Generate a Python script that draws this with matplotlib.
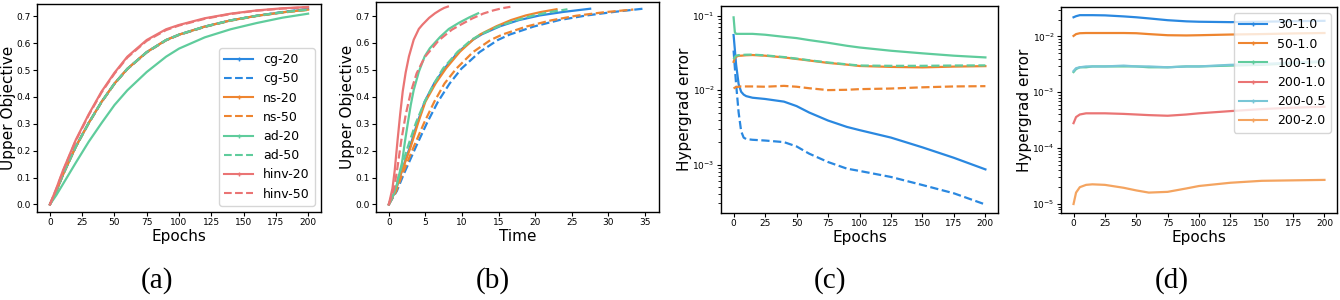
import numpy as np
import matplotlib.pyplot as plt
from matplotlib.lines import Line2D

# ---- data ----
epochs = [0, 5, 10, 20, 30, 40, 50, 60, 75, 90, 100, 120, 140, 160, 180, 200]

obj_hinv20 = [0, 0.06, 0.125, 0.24, 0.335, 0.42, 0.49, 0.55, 0.612, 0.652, 0.668, 0.693, 0.710, 0.722, 0.730, 0.735]
obj_hinv50 = [0, 0.058, 0.122, 0.237, 0.332, 0.417, 0.487, 0.547, 0.609, 0.649, 0.666, 0.691, 0.709, 0.721, 0.729, 0.734]
obj_cg20 = [0, 0.05, 0.11, 0.215, 0.303, 0.382, 0.45, 0.505, 0.567, 0.612, 0.632, 0.662, 0.685, 0.702, 0.715, 0.727]
obj_cg50 = [0, 0.05, 0.11, 0.214, 0.302, 0.381, 0.449, 0.504, 0.566, 0.611, 0.631, 0.661, 0.685, 0.702, 0.716, 0.728]
obj_ns20 = [0, 0.05, 0.11, 0.215, 0.303, 0.382, 0.45, 0.505, 0.567, 0.612, 0.632, 0.662, 0.685, 0.702, 0.715, 0.725]
obj_ns50 = [0, 0.049, 0.109, 0.214, 0.302, 0.381, 0.449, 0.504, 0.566, 0.611, 0.631, 0.661, 0.684, 0.701, 0.714, 0.724]
obj_ad20 = [0, 0.035, 0.075, 0.155, 0.233, 0.303, 0.37, 0.425, 0.493, 0.55, 0.58, 0.622, 0.652, 0.675, 0.695, 0.71]
obj_ad50 = [0, 0.05, 0.11, 0.215, 0.303, 0.382, 0.45, 0.505, 0.567, 0.612, 0.632, 0.662, 0.685, 0.702, 0.715, 0.725]

time_cg20 = [0, 0.9, 1.6, 2.9, 3.9, 4.9, 6.2, 7.6, 9.5, 11.5, 12.7, 15.2, 17.8, 20.6, 23.8, 27.5]
time_cg50 = [0, 1.1, 2.0, 3.7, 5.2, 6.7, 8.3, 9.9, 12.4, 14.9, 16.5, 19.8, 23.3, 27.0, 31.0, 35.0]
time_ns20 = [0, 0.9, 1.6, 3.0, 4.0, 5.0, 6.4, 7.8, 9.7, 11.5, 12.5, 14.7, 16.7, 18.7, 20.8, 22.9]
time_ns50 = [0, 1.0, 1.8, 3.4, 4.8, 6.2, 7.6, 9.2, 11.5, 13.9, 15.5, 18.8, 22.2, 25.6, 29.4, 33.4]
time_ad20 = [0, 0.6, 1.1, 1.8, 2.2, 2.6, 3.0, 3.4, 4.1, 4.9, 5.6, 7.0, 8.2, 9.6, 11.0, 12.2]
time_ad50 = [0, 0.8, 1.4, 2.6, 3.7, 4.9, 6.2, 7.4, 9.4, 11.3, 12.6, 15.0, 17.5, 19.8, 22.1, 24.4]
time_hinv20 = [0, 0.5, 0.8, 1.2, 1.55, 1.9, 2.3, 2.75, 3.4, 4.1, 4.6, 5.5, 6.3, 7.0, 7.55, 8.07]
time_hinv50 = [0, 0.7, 1.1, 1.7, 2.3, 3.0, 3.8, 4.9, 6.8, 8.6, 9.7, 11.4, 12.9, 14.3, 15.5, 16.6]

epochs_c = [0, 1, 2, 4, 6, 8, 10, 15, 25, 40, 50, 60, 75, 90, 100, 125, 150, 175, 200]
err_cg20 = [0.055, 0.035, 0.022, 0.012, 0.0095, 0.0087, 0.0083, 0.0079, 0.0076, 0.0070, 0.0061, 0.0050, 0.0039, 0.0032, 0.0029, 0.0023, 0.0017, 0.00123, 0.00086]
err_cg50 = [0.034, 0.02, 0.012, 0.005, 0.0028, 0.0023, 0.0022, 0.00215, 0.0021, 0.0020, 0.00175, 0.0014, 0.00108, 0.00088, 0.00082, 0.00068, 0.00053, 0.00041, 0.00029]
err_ns20 = [0.024, 0.027, 0.028, 0.029, 0.029, 0.0292, 0.0294, 0.0296, 0.029, 0.0275, 0.0262, 0.025, 0.0232, 0.022, 0.0211, 0.0205, 0.0202, 0.0207, 0.021]
err_ns50 = [0.0105, 0.0108, 0.011, 0.0111, 0.0112, 0.0112, 0.0112, 0.0112, 0.0111, 0.0114, 0.0111, 0.0106, 0.0100, 0.0101, 0.0103, 0.0105, 0.0109, 0.0112, 0.0113]
err_ad20 = [0.095, 0.06, 0.057, 0.057, 0.057, 0.057, 0.057, 0.057, 0.0555, 0.052, 0.050, 0.047, 0.0433, 0.0394, 0.0374, 0.0338, 0.0312, 0.029, 0.0275]
err_ad50 = [0.026, 0.028, 0.029, 0.0295, 0.0297, 0.0298, 0.0299, 0.030, 0.0293, 0.0278, 0.0265, 0.0252, 0.0235, 0.0222, 0.0214, 0.0212, 0.0212, 0.0214, 0.0215]

epochs_d = [0, 2, 5, 10, 15, 25, 40, 50, 60, 75, 90, 100, 125, 150, 175, 200]
err_30_1 = [0.022, 0.023, 0.024, 0.024, 0.024, 0.0238, 0.0228, 0.022, 0.021, 0.0195, 0.0186, 0.0183, 0.018, 0.0183, 0.0187, 0.019]
err_50_1 = [0.0102, 0.011, 0.0114, 0.0115, 0.0115, 0.0115, 0.0115, 0.0114, 0.011, 0.0105, 0.0104, 0.0105, 0.0108, 0.011, 0.0113, 0.0115]
err_100_1 = [0.0023, 0.0026, 0.0028, 0.0028, 0.0029, 0.0029, 0.0029, 0.0029, 0.0028, 0.0028, 0.0029, 0.0029, 0.0030, 0.0031, 0.0033, 0.0035]
err_200_1 = [0.00028, 0.00036, 0.0004, 0.00042, 0.00042, 0.00042, 0.00041, 0.0004, 0.00039, 0.00038, 0.0004, 0.00042, 0.00046, 0.0005, 0.00053, 0.00055]
err_200_05 = [0.0024, 0.0027, 0.0028, 0.0029, 0.0029, 0.0029, 0.003, 0.0029, 0.0029, 0.0028, 0.0029, 0.0029, 0.0031, 0.0032, 0.0034, 0.0036]
err_200_2 = [1.0e-5, 1.6e-5, 2.0e-5, 2.2e-5, 2.25e-5, 2.2e-5, 1.95e-5, 1.75e-5, 1.6e-5, 1.65e-5, 1.9e-5, 2.1e-5, 2.4e-5, 2.6e-5, 2.65e-5, 2.7e-5]

blue = '#2a88e0'
orange = '#ee8530'
green = '#5fcc9c'
red = '#ea7474'
lightblue = '#78c6d6'
sandy = '#f4a460'

names = ['cg-20', 'cg-50', 'ns-20', 'ns-50', 'ad-20', 'ad-50', 'hinv-20', 'hinv-50']
colors = [blue, blue, orange, orange, green, green, red, red]
styles = ['-', '--', '-', '--', '-', '--', '-', '--']
objs = [obj_cg20, obj_cg50, obj_ns20, obj_ns50, obj_ad20, obj_ad50, obj_hinv20, obj_hinv50]
times = [time_cg20, time_cg50, time_ns20, time_ns50, time_ad20, time_ad50, time_hinv20, time_hinv50]

plt.rcParams['font.family'] = 'DejaVu Sans'
fig = plt.figure(figsize=(13.4, 3.0), dpi=100)

tick_fs = 6.5
lab_fs = 11
leg_fs = 9


def style_ax(ax):
    ax.tick_params(labelsize=tick_fs, length=3, width=0.8, pad=1.5)
    for s in ax.spines.values():
        s.set_linewidth(1.0)


def handle(c, ls):
    if ls == '-':
        return Line2D([], [], color=c, ls=ls, lw=1.5, marker='+', ms=3)
    return Line2D([], [], color=c, ls=ls, lw=1.5)


# (a) objective vs epochs
ax1 = fig.add_axes([37 / 1340, 88 / 300, 284 / 1340, 208 / 300])
for y, c, ls in zip(objs, colors, styles):
    ax1.plot(epochs, y, color=c, ls=ls, lw=1.6)
ax1.set_xlim(-10, 210)
ax1.set_ylim(-0.028, 0.746)
ax1.set_xticks([0, 25, 50, 75, 100, 125, 150, 175, 200])
ax1.set_yticks([0.0, 0.1, 0.2, 0.3, 0.4, 0.5, 0.6, 0.7])
ax1.set_xlabel('Epochs', fontsize=lab_fs, labelpad=1)
ax1.set_ylabel('Upper Objective', fontsize=lab_fs, labelpad=0.5)
style_ax(ax1)
ax1.legend([handle(c, ls) for c, ls in zip(colors, styles)], names, loc='lower right',
           fontsize=leg_fs, labelspacing=0.5, handlelength=2.3)

# (b) objective vs time
ax2 = fig.add_axes([376 / 1340, 88 / 300, 283 / 1340, 210 / 300])
for t, y, c, ls in zip(times, objs, colors, styles):
    ax2.plot(t, y, color=c, ls=ls, lw=1.6)
ax2.set_xlim(-1.75, 36.9)
ax2.set_ylim(-0.028, 0.752)
ax2.set_xticks([0, 5, 10, 15, 20, 25, 30, 35])
ax2.set_yticks([0.0, 0.1, 0.2, 0.3, 0.4, 0.5, 0.6, 0.7])
ax2.set_xlabel('Time', fontsize=lab_fs, labelpad=1)
ax2.set_ylabel('Upper Objective', fontsize=lab_fs, labelpad=0.5)
style_ax(ax2)

# (c) hypergradient error
ax3 = fig.add_axes([721 / 1340, 87 / 300, 277 / 1340, 207 / 300])
errs = [err_cg20, err_cg50, err_ns20, err_ns50, err_ad20, err_ad50]
for y, c, ls in zip(errs, colors[:6], styles[:6]):
    ax3.plot(epochs_c, y, color=c, ls=ls, lw=1.6)
ax3.set_yscale('log')
ax3.set_xlim(-10, 210)
ax3.set_ylim(2.23e-4, 0.135)
ax3.set_xticks([0, 25, 50, 75, 100, 125, 150, 175, 200])
ax3.set_xlabel('Epochs', fontsize=lab_fs, labelpad=1)
ax3.set_ylabel('Hypergrad error', fontsize=lab_fs, labelpad=0.5)
style_ax(ax3)

# (d) error for different settings
ax4 = fig.add_axes([1061 / 1340, 87 / 300, 276 / 1340, 206 / 300])
d_names = ['30-1.0', '50-1.0', '100-1.0', '200-1.0', '200-0.5', '200-2.0']
d_vals = [err_30_1, err_50_1, err_100_1, err_200_1, err_200_05, err_200_2]
d_cols = [blue, orange, green, red, lightblue, sandy]
for y, c in zip(d_vals, d_cols):
    ax4.plot(epochs_d, y, color=c, lw=1.6)
ax4.set_yscale('log')
ax4.set_xlim(-10, 210)
ax4.set_ylim(6.9e-6, 0.0336)
ax4.set_xticks([0, 25, 50, 75, 100, 125, 150, 175, 200])
ax4.set_xlabel('Epochs', fontsize=lab_fs, labelpad=1)
ax4.set_ylabel('Hypergrad error', fontsize=lab_fs, labelpad=0.5)
style_ax(ax4)
ax4.legend([handle(c, '-') for c in d_cols], d_names, loc='upper right',
           fontsize=leg_fs, labelspacing=0.5, handlelength=2.3)

# captions
for x, s in zip([157, 493, 830, 1172], ['(a)', '(b)', '(c)', '(d)']):
    fig.text(x / 1340, 1 - 281 / 300, s, ha='center', va='center',
             fontsize=21, family='Liberation Serif')

fig.savefig('out.png', dpi=100)
